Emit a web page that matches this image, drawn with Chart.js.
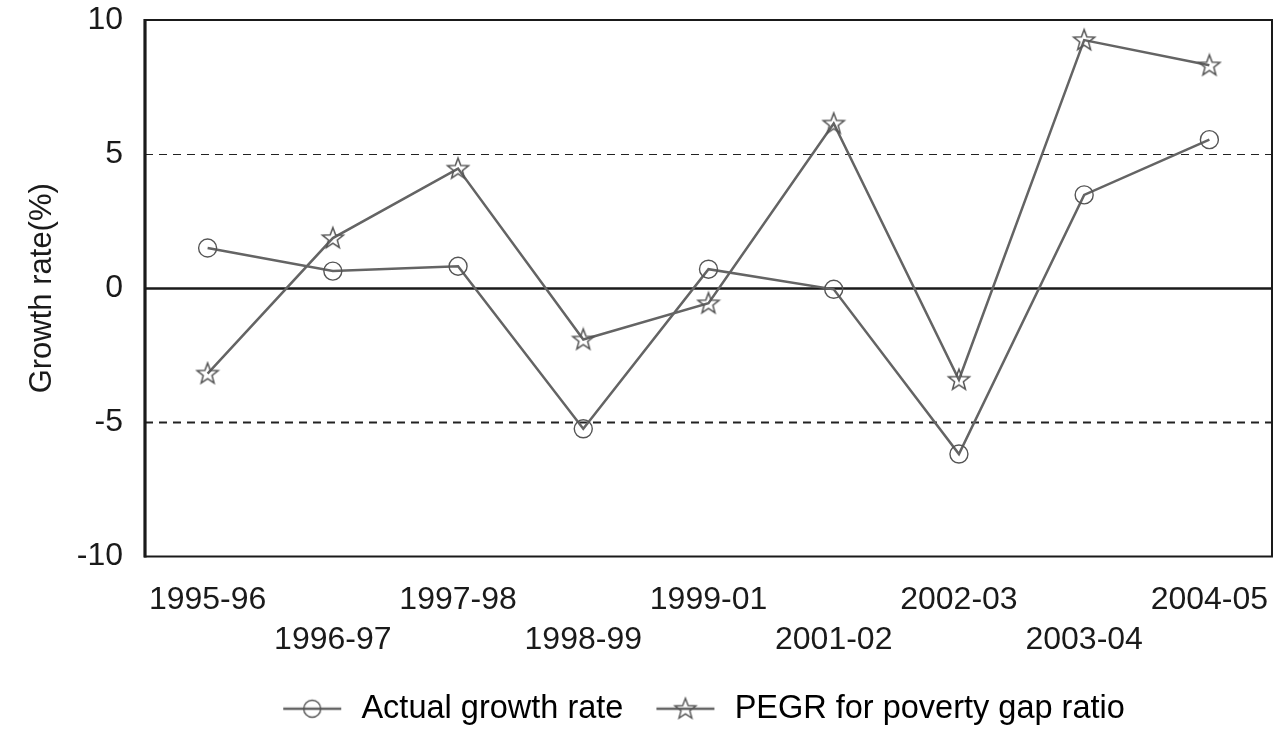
<!DOCTYPE html>
<html>
<head>
<meta charset="utf-8">
<script src="https://cdn.jsdelivr.net/npm/chart.js@4.4.1/dist/chart.umd.min.js"></script>
<style>
html,body{margin:0;padding:0;background:#fff;}
#wrap{width:1288px;height:737px;}
</style>
</head>
<body>
<div id="wrap"><canvas id="c" width="1288" height="737"></canvas></div>
<script>
const categories = ['1995-96','1996-97','1997-98','1998-99','1999-01','2001-02','2002-03','2003-04','2004-05'];
const actualGrowth = [1.5, 0.64, 0.82, -5.24, 0.71, -0.04, -6.18, 3.48, 5.54];
const pegrPovertyGap = [-3.18, 1.87, 4.46, -1.91, -0.56, 6.14, -3.41, 9.25, 8.31];
const seriesNames = ['Actual growth rate', 'PEGR for poverty gap ratio'];
const yTicks = [-10, -5, 0, 5, 10];
const refLines = [5, 0, -5];

const LINE = '#646464';
const FONT = 'Liberation Sans, Arial, sans-serif';

function drawStar(ctx, cx, cy, ro, ri) {
  ctx.beginPath();
  for (let i = 0; i < 10; i++) {
    const r = i % 2 ? ri : ro;
    const a = -Math.PI / 2 + i * Math.PI / 5;
    const x = cx + r * Math.cos(a), y = cy + r * Math.sin(a);
    if (i === 0) ctx.moveTo(x, y); else ctx.lineTo(x, y);
  }
  ctx.closePath();
  ctx.stroke();
}
function starCanvas() {
  const cv = document.createElement('canvas');
  cv.width = 26; cv.height = 26;
  const g = cv.getContext('2d');
  g.strokeStyle = '#555'; g.lineWidth = 1.5;
  drawStar(g, 13, 13.5, 11, 4.6);
  return cv;
}
function legendSample(kind) {
  const cv = document.createElement('canvas');
  cv.width = 86; cv.height = 26;
  const g = cv.getContext('2d');
  const x0 = 24, x1 = 82, cx = 53;
  g.strokeStyle = LINE; g.lineWidth = 2.5;
  g.beginPath(); g.moveTo(x0, 13); g.lineTo(x1, 13); g.stroke();
  g.lineWidth = 1.4; g.strokeStyle = '#555';
  if (kind === 'circle') {
    g.beginPath(); g.arc(cx, 13, 8.5, 0, Math.PI * 2); g.stroke();
  } else {
    drawStar(g, cx, 13.5, 11, 4.6);
  }
  return cv;
}
const starImg = starCanvas();
const legendImgs = [legendSample('circle'), legendSample('star')];

const frame = {
  id: 'frame',
  afterLayout(chart) {
    if (chart.legend) { chart.legend.left += 56; chart.legend.right += 56; }
  },
  beforeDatasetsDraw(chart) {
    const {ctx, chartArea: a, scales: {y}} = chart;
    ctx.save();
    refLines.forEach(v => {
      const py = Math.round(y.getPixelForValue(v)) + 0.5;
      ctx.beginPath();
      if (v === 0) {
        ctx.setLineDash([]); ctx.lineWidth = 2.6; ctx.strokeStyle = '#1a1a1a';
      } else {
        ctx.setLineDash([8, 6]); ctx.lineWidth = v > 0 ? 1.2 : 1.8; ctx.strokeStyle = '#222';
      }
      ctx.moveTo(a.left, py); ctx.lineTo(a.right, py); ctx.stroke();
    });
    ctx.setLineDash([]);
    ctx.strokeStyle = '#1a1a1a';
    ctx.lineWidth = 2;
    ctx.strokeRect(a.left, a.top, a.right - a.left, a.bottom - a.top);
    ctx.lineWidth = 3.2;
    ctx.beginPath(); ctx.moveTo(a.left, a.top - 1); ctx.lineTo(a.left, a.bottom + 1); ctx.stroke();
    ctx.restore();
  }
};

new Chart(document.getElementById('c'), {
  type: 'line',
  data: {
    labels: categories.map((c, i) => i % 2 ? ['', c] : [c, '']),
    datasets: [
      {
        label: seriesNames[0],
        data: actualGrowth,
        borderColor: LINE, borderWidth: 2.5,
        pointStyle: 'circle', pointRadius: 9,
        pointBorderColor: '#555', pointBorderWidth: 1.4,
        pointBackgroundColor: 'rgba(0,0,0,0)',
        tension: 0
      },
      {
        label: seriesNames[1],
        data: pegrPovertyGap,
        borderColor: LINE, borderWidth: 2.5,
        pointStyle: starImg, pointRadius: 11,
        tension: 0
      }
    ]
  },
  options: {
    responsive: false,
    animation: false,
    devicePixelRatio: 1,
    layout: {padding: {top: 20, right: 16, left: 0, bottom: 2}},
    plugins: {
      tooltip: {enabled: false},
      legend: {
        position: 'bottom',
        labels: {
          usePointStyle: true,
          pointStyleWidth: 86,
          boxHeight: 26,
          padding: 9,
          color: '#1a1a1a',
          font: {family: FONT, size: 32.5},
          generateLabels(chart) {
            return chart.data.datasets.map((d, i) => ({
              text: d.label, pointStyle: legendImgs[i], datasetIndex: i,
              fillStyle: 'rgba(0,0,0,0)', strokeStyle: 'rgba(0,0,0,0)', lineWidth: 0, hidden: false
            }));
          }
        }
      }
    },
    scales: {
      x: {
        offset: true,
        grid: {display: false, drawTicks: false},
        border: {display: false},
        ticks: {
          autoSkip: false, maxRotation: 0, minRotation: 0,
          padding: 24, color: '#1a1a1a',
          font: {family: FONT, size: 32, lineHeight: 1.25}
        },
        afterFit(s) { s.height = 127; s.paddingLeft = 0; s.paddingRight = 0; }
      },
      y: {
        min: yTicks[0], max: yTicks[yTicks.length - 1],
        afterBuildTicks(s) { s.ticks = yTicks.map(v => ({value: v})); },
        grid: {display: false, drawTicks: false},
        border: {display: false},
        ticks: {padding: 22, color: '#1a1a1a', font: {family: FONT, size: 32}},
        title: {display: true, text: 'Growth rate(%)', color: '#1a1a1a', font: {family: FONT, size: 31}, padding: {top: 24, bottom: 0}},
        afterFit(s) { s.width = 145; s.paddingTop = 0; s.paddingBottom = 0; }
      }
    }
  },
  plugins: [frame]
});
</script>
</body>
</html>
